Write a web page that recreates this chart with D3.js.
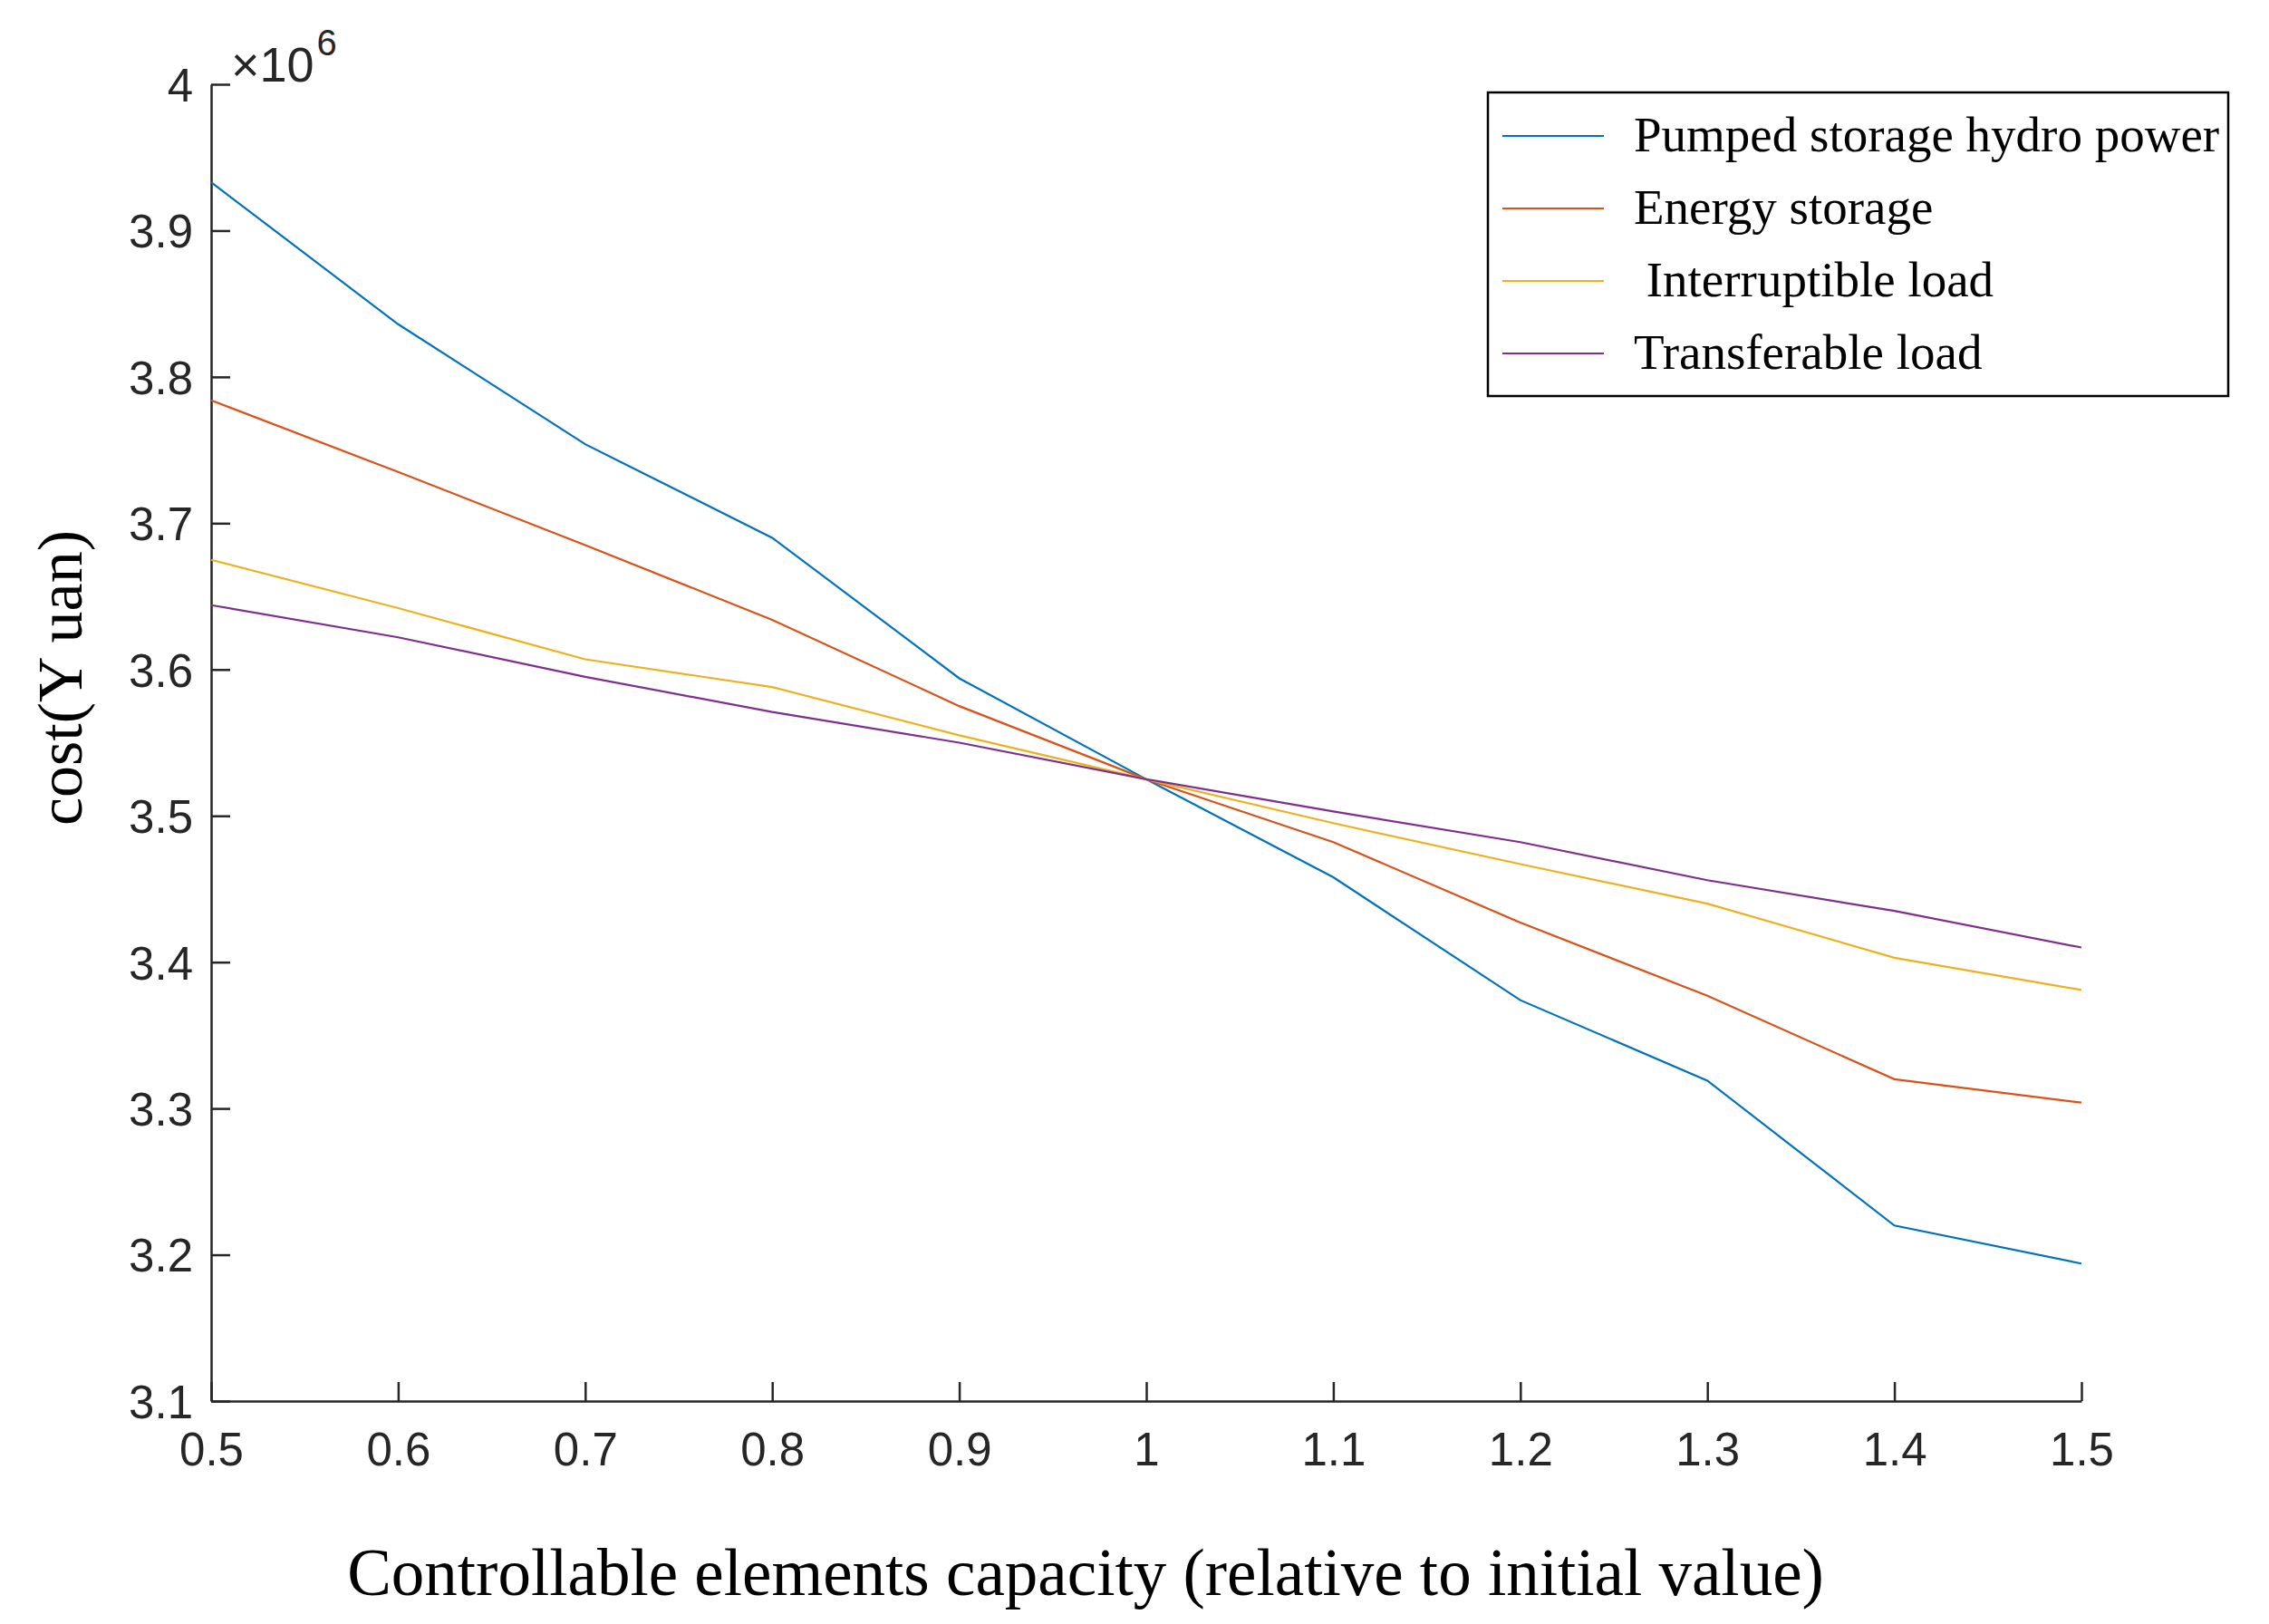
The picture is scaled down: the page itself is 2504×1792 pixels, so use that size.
<!DOCTYPE html>
<html>
<head>
<meta charset="utf-8">
<script src="https://cdn.jsdelivr.net/npm/d3@7"></script>
<style>
    body { margin: 0; background: #fff; }
    svg { display: block; }
</style>
</head>
<body>
<svg id="costChart" width="2504" height="1792"></svg>
<script>
// cost values, in units of 10^6 Yuan
var capacity = [0.5, 0.6, 0.7, 0.8, 0.9, 1.0, 1.1, 1.2, 1.3, 1.4, 1.5];
var pumpedHydro = [3.933, 3.836, 3.754, 3.690, 3.594, 3.525, 3.458, 3.374, 3.319, 3.220, 3.194];
var energyStorage = [3.784, 3.735, 3.685, 3.634, 3.575, 3.525, 3.482, 3.427, 3.377, 3.320, 3.304];
var interruptibleLoad = [3.675, 3.642, 3.607, 3.588, 3.555, 3.525, 3.495, 3.467, 3.440, 3.403, 3.381];
var transferableLoad = [3.644, 3.622, 3.595, 3.571, 3.550, 3.525, 3.503, 3.482, 3.456, 3.435, 3.410];

var seriesNames = ["Pumped storage hydro power", "Energy storage", " Interruptible load", "Transferable load"];
var xTicks = [0.5, 0.6, 0.7, 0.8, 0.9, 1, 1.1, 1.2, 1.3, 1.4, 1.5];
var yTicks = [3.1, 3.2, 3.3, 3.4, 3.5, 3.6, 3.7, 3.8, 3.9, 4];

function CostChart(){
    this.margin = {left: 233, right: 2297, top: 93, bottom: 1546};
    this.colors = ["#0072BD", "#D95319", "#EDB120", "#7E2F8E"];
    this.axisColor = "#262626";
}

CostChart.prototype = {

    draw: function(svgId){
        var svg = d3.select(svgId);
        var m = this.margin;
        var self = this;

        var x = d3.scaleLinear().domain([0.5, 1.5]).range([m.left, m.right]);
        var y = d3.scaleLinear().domain([3.1, 4]).range([m.bottom, m.top]);

        // axes, ticks pointing inward like matlab
        var xAxis = svg.append("g")
            .attr("transform", "translate(0," + m.bottom + ")")
            .call(d3.axisTop(x).tickValues(xTicks).tickSize(21).tickSizeOuter(0).tickFormat(d3.format("~g")));
        xAxis.selectAll("text").remove();
        xAxis.selectAll(".tick").append("text")
            .attr("y", 71)
            .attr("text-anchor", "middle")
            .text(function(d){ return d3.format("~g")(d); });

        var yAxis = svg.append("g")
            .attr("transform", "translate(" + m.left + ",0)")
            .call(d3.axisRight(y).tickValues(yTicks).tickSize(21).tickSizeOuter(0));
        yAxis.selectAll("text").remove();
        yAxis.selectAll(".tick").append("text")
            .attr("x", -20)
            .attr("dy", "0.36em")
            .attr("text-anchor", "end")
            .text(function(d){ return d3.format("~g")(d); });

        [xAxis, yAxis].forEach(function(a){
            a.select(".domain").attr("stroke", self.axisColor).attr("stroke-width", 2.5);
            a.selectAll(".tick line").attr("stroke", self.axisColor).attr("stroke-width", 2.5);
            a.selectAll(".tick text")
                .attr("fill", self.axisColor)
                .style("font-family", "'Liberation Sans', Arial, sans-serif")
                .style("font-size", "51px");
        });

        // exponent label
        var expo = svg.append("text")
            .attr("x", 255)
            .attr("y", 90)
            .attr("fill", this.axisColor)
            .style("font-family", "'Liberation Sans', Arial, sans-serif")
            .style("font-size", "54px");
        expo.append("tspan").text("\u00d710");
        expo.append("tspan").attr("dx", 3).attr("dy", -29).style("font-size", "40px").text("6");

        // lines
        var allSeries = [pumpedHydro, energyStorage, interruptibleLoad, transferableLoad];
        var line = d3.line()
            .x(function(d, i){ return x(capacity[i]); })
            .y(function(d){ return y(d); });

        svg.append("g").selectAll("path")
            .data(allSeries)
            .enter().append("path")
            .attr("d", line)
            .attr("fill", "none")
            .attr("stroke", function(d, i){ return self.colors[i]; })
            .attr("stroke-width", 2.2);

        // axis titles
        svg.append("text")
            .attr("x", 1198)
            .attr("y", 1760)
            .attr("text-anchor", "middle")
            .style("font-family", "'Liberation Serif', 'Times New Roman', serif")
            .style("font-size", "73px")
            .text("Controllable elements capacity (relative to initial value)");

        svg.append("text")
            .attr("transform", "translate(90,748) rotate(-90)")
            .attr("text-anchor", "middle")
            .style("font-family", "'Liberation Serif', 'Times New Roman', serif")
            .style("font-size", "70px")
            .text("cost(Y uan)");

        this.drawLegend(svg);
    },

    drawLegend: function(svg){
        var self = this;
        var legend = svg.append("g");
        legend.append("rect")
            .attr("x", 1642).attr("y", 102)
            .attr("width", 817).attr("height", 335)
            .attr("fill", "#fff")
            .attr("stroke", "#000")
            .attr("stroke-width", 2.5);

        var row = legend.selectAll(".row")
            .data(seriesNames)
            .enter().append("g")
            .attr("class", "row")
            .attr("transform", function(d, i){ return "translate(0," + (150 + i * 80) + ")"; });

        row.append("line")
            .attr("x1", 1658).attr("x2", 1770)
            .attr("stroke", function(d, i){ return self.colors[i]; })
            .attr("stroke-width", 2.2);

        row.append("text")
            .attr("x", 1803)
            .attr("y", 17)
            .attr("xml:space", "preserve")
            .style("white-space", "pre")
            .style("font-family", "'Liberation Serif', 'Times New Roman', serif")
            .style("font-size", "55px")
            .text(function(d){ return d; });
    }
};

var chart = new CostChart();
chart.draw("#costChart");
</script>
</body>
</html>
